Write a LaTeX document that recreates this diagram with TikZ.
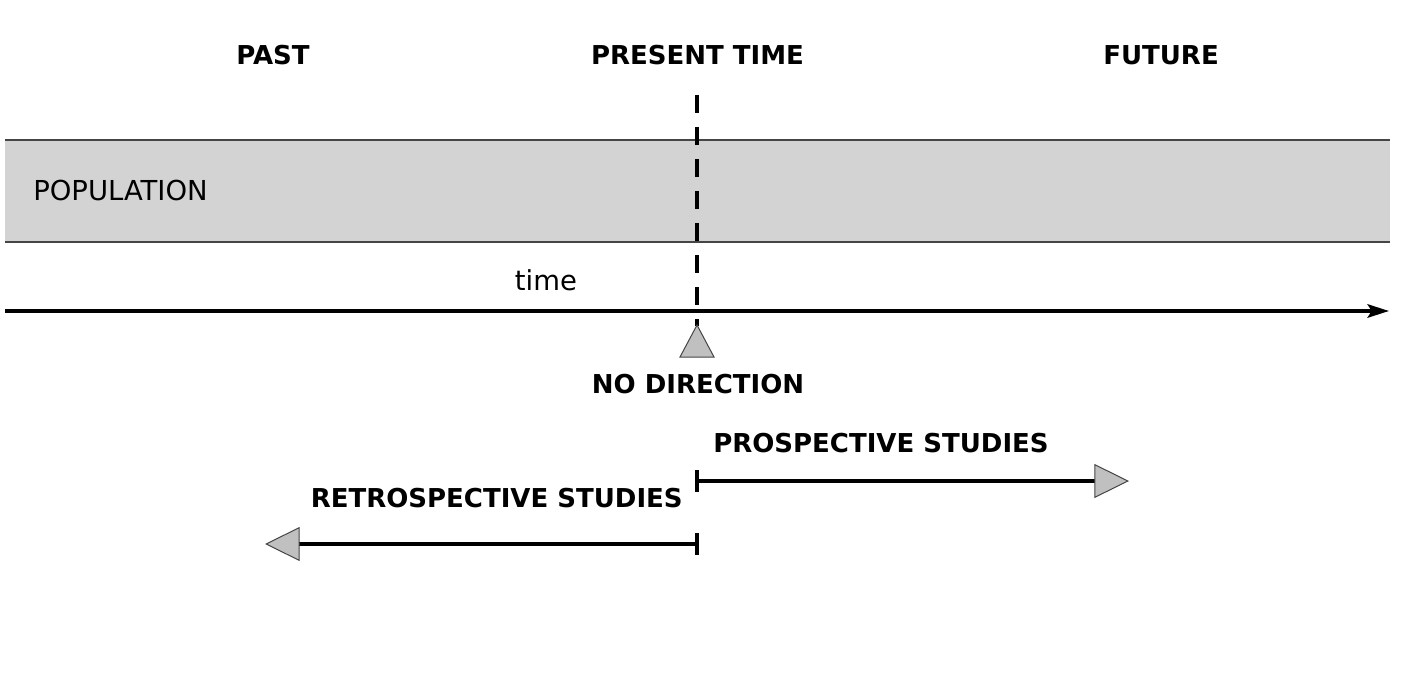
\documentclass[tikz,border=0pt]{standalone}
\usepackage{fontspec}
\setmainfont{DejaVu Sans}
\usetikzlibrary{arrows.meta}
\definecolor{bandgray}{HTML}{D3D3D3}
\definecolor{edgegray}{HTML}{454545}
\definecolor{tipgray}{HTML}{C0C0C0}
\begin{document}
\begin{tikzpicture}[x=0.75pt,y=-0.75pt,
  lbl/.style={font=\fontsize{19.5pt}{23pt}\selectfont\bfseries, inner sep=0pt},
  plain/.style={font=\fontsize{20.6pt}{24pt}\selectfont, inner sep=0pt},
  studyarrow/.style={line width=2.6pt,
    -{Triangle[length=26pt,width=25.5pt,fill=tipgray,color=edgegray,line width=0.75pt]}},
  tick/.style={line width=2.4pt},
  bandline/.style={edgegray, line width=1.5pt}]
\useasboundingbox (0,0) rectangle (1408,677);
% population band
\fill[bandgray] (5,140) rectangle (1390,242);
\draw[bandline] (5,140) -- (1390,140);
\draw[bandline] (5,242) -- (1390,242);
% headers
\node[lbl] (past) at (273,55) {PAST};
\node[lbl] (present) at (697.5,55) {PRESENT TIME};
\node[lbl] (future) at (1161,55) {FUTURE};
% population label
\node[plain, anchor=west] (pop) at (33,191) {POPULATION};
% present time dashed line
\coordinate (dtop) at (697,95);
\coordinate (dbot) at (697,326);
\draw[line width=3pt, dash pattern=on 13.5pt off 10.5pt] (dtop) -- (dbot);
% time axis
\coordinate (axL) at (5,311);
\coordinate (axR) at (1389,311);
\draw[line width=2.8pt, -{Stealth[length=16pt,width=10pt,inset=3pt]}] (axL) -- (axR);
\node[plain, anchor=base] (time) at (546,290) {time};
% no direction marker
\filldraw[fill=tipgray, draw=edgegray, line width=0.75pt] (680,357) -- (697,325) -- (714,357) -- cycle;
\node[lbl] (nodir) at (698,384) {NO DIRECTION};
% prospective
\node[lbl, anchor=west] (prosp) at (713,443) {PROSPECTIVE STUDIES};
\coordinate (p0) at (697,481);
\coordinate (p1) at (1129,481);
\draw[studyarrow] (p0) -- (p1);
\draw[tick] (p0) ++(0,-11) -- ++(0,22);
% retrospective
\node[lbl, anchor=east] (retro) at (683,498) {RETROSPECTIVE STUDIES};
\coordinate (r0) at (697,544);
\coordinate (r1) at (265,544);
\draw[studyarrow] (r0) -- (r1);
\draw[tick] (r0) ++(0,-11) -- ++(0,22);
\end{tikzpicture}
\end{document}
